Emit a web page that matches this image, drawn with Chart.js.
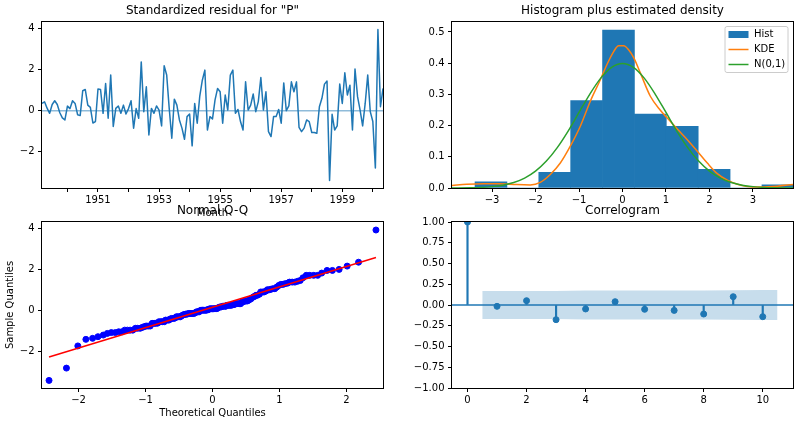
<!DOCTYPE html>
<html>
<head>
<meta charset="utf-8">
<title>Residual diagnostics</title>
<script src="https://cdn.jsdelivr.net/npm/chart.js@4.4.1/dist/chart.umd.min.js"></script>
<style>
  html, body { margin: 0; padding: 0; background: #fff; }
  #wrap { position: relative; width: 800px; height: 425px; overflow: hidden; }
  #wrap canvas { position: absolute; }
</style>
</head>
<body>
<div id="wrap">
  <canvas id="resid" width="400" height="225" style="left:0;top:0;width:400px;height:225px"></canvas>
  <canvas id="hist" width="400" height="210" style="left:400px;top:0;width:400px;height:210px"></canvas>
  <canvas id="qq" width="400" height="225" style="left:0;top:200px;width:400px;height:225px"></canvas>
  <canvas id="acf" width="400" height="225" style="left:400px;top:200px;width:400px;height:225px"></canvas>
</div>
<script>
// ---- data ----
const startYear = 1949, startMonth = 3;   // first residual (monthly)
const resid = [
  0.35, 0.43, 0.12, -0.13, 0.3, 0.48, 0.3, -0.1, -0.35, -0.45,
  0.22, 0.1, 0.48, 0.35, -0.2, -0.24, 0.97, 1.03, 0.27, 0.16,
  -0.6, -0.53, 1.05, 1.03, -0.13, 1.32, -0.37, 1.73, -0.77, 0.11,
  0.23, -0.13, 0.27, -0.16, 0.1, 0.48, -0.85, 0.1, -0.37, 2.37,
  -0.05, 1.16, -1.18, 0.11, -0.13, 0.23, 0.03, -0.74, 2.18, 1.73,
  0.1, -1.34, 0.56, 0.27, -0.45, -0.85, -1.39, -0.29, -0.16, -1.71,
  0.35, -0.61, 0.71, 1.48, 1.97, -0.94, -0.29, -0.4, 0.52, 1.08,
  0.92, -0.61, 0.76, 0.03, 1.73, 1.97, -0.13, 0.06, -0.53, -0.94,
  1.4, 0.03, 0.27, 0.81, -0.05, 0.44, 1.61, 0.03, 0.92, -1.02,
  -1.26, -0.29, -0.29, 0.06, -0.61, 1.35, 0.0, 0.23, 1.4, 0.92,
  1.4, -0.81, -1.02, -0.85, -0.45, -0.53, -1.06, -1.06, -1.1, 0.19,
  0.6, 1.29, 1.44, -3.39, -0.18, -0.94, -0.74, 1.29, 0.35, 1.84,
  0.76, 1.24, -0.94, 2.02, 0.68, 0.03, -0.74, 0.35, 1.73, -0.05,
  -0.53, -2.79, 3.94, 0.19, 1.08
];
const yearTicks = [1950, 1951, 1952, 1953, 1954, 1955, 1956, 1957, 1958, 1959, 1960];

const histCenters = [-3.024, -2.291, -1.558, -0.825, -0.092, 0.641, 1.374, 2.107, 2.840, 3.573];
const histDensity = [0.02, 0, 0.05, 0.28, 0.506, 0.237, 0.198, 0.06, 0, 0.01];
const kdeX = [-3.92, -3.58, -3.2, -2.82, -2.43, -2.12, -1.89, -1.66, -1.43, -1.2, -0.97, -0.74,
  -0.51, -0.36, -0.2, -0.09, 0.03, 0.14, 0.26, 0.41, 0.64, 0.87, 1.03, 1.26, 1.49, 1.72,
  1.95, 2.18, 2.41, 2.64, 2.87, 3.1, 3.33, 3.56, 3.92];
const kdeY = [0.008, 0.012, 0.014, 0.014, 0.011, 0.01, 0.018, 0.043, 0.08, 0.134, 0.198, 0.278,
  0.347, 0.395, 0.438, 0.456, 0.456, 0.443, 0.417, 0.369, 0.294, 0.249, 0.224, 0.189, 0.155, 0.118,
  0.08, 0.046, 0.025, 0.012, 0.005, 0.003, 0.004, 0.006, 0.011];
const normX = [-3.92, -3.5, -3.25, -3, -2.75, -2.5, -2.25, -2, -1.75, -1.5, -1.25, -1, -0.75, -0.5, -0.25, 0,
  0.25, 0.5, 0.75, 1, 1.25, 1.5, 1.75, 2, 2.25, 2.5, 2.75, 3, 3.25, 3.5, 3.92];
const normY = [0.0002, 0.0009, 0.002, 0.0044, 0.0091, 0.0175, 0.0317, 0.054, 0.0863, 0.1295, 0.1826, 0.242, 0.3011, 0.3521, 0.3867, 0.3989,
  0.3867, 0.3521, 0.3011, 0.242, 0.1826, 0.1295, 0.0863, 0.054, 0.0317, 0.0175, 0.0091, 0.0044, 0.002, 0.0009, 0.0002];

const qqTheo = [
  -2.44, -2.18, -2.01, -1.89, -1.79, -1.71, -1.63, -1.57, -1.51, -1.45,
  -1.40, -1.35, -1.31, -1.27, -1.23, -1.19, -1.15, -1.12, -1.08, -1.05,
  -1.02, -0.99, -0.96, -0.93, -0.90, -0.87, -0.85, -0.82, -0.80, -0.77,
  -0.75, -0.72, -0.70, -0.67, -0.65, -0.63, -0.61, -0.58, -0.56, -0.54,
  -0.52, -0.50, -0.48, -0.46, -0.44, -0.42, -0.40, -0.38, -0.36, -0.34,
  -0.32, -0.30, -0.28, -0.26, -0.24, -0.22, -0.20, -0.19, -0.17, -0.15,
  -0.13, -0.11, -0.09, -0.07, -0.06, -0.04, -0.02, 0,
  0.02, 0.04, 0.06, 0.07, 0.09, 0.11, 0.13,
  0.15, 0.17, 0.19, 0.20, 0.22, 0.24, 0.26, 0.28, 0.30, 0.32,
  0.34, 0.36, 0.38, 0.40, 0.42, 0.44, 0.46, 0.48, 0.50, 0.52,
  0.54, 0.56, 0.58, 0.61, 0.63, 0.65, 0.67, 0.70, 0.72, 0.75,
  0.77, 0.80, 0.82, 0.85, 0.87, 0.90, 0.93, 0.96, 0.99, 1.02,
  1.05, 1.08, 1.12, 1.15, 1.19, 1.23, 1.27, 1.31, 1.35, 1.40,
  1.45, 1.51, 1.57, 1.63, 1.71, 1.79, 1.89, 2.01, 2.18, 2.44
];
const qqLineX = [-2.44, 2.44];
const qqLineY = [-2.25, 2.6];

const lags = [0, 1, 2, 3, 4, 5, 6, 7, 8, 9, 10];
const acf = [1.0, -0.016, 0.052, -0.177, -0.048, 0.04, -0.052, -0.065, -0.109, 0.10, -0.141];
const bandX = [0.5, 1, 2, 3, 4, 5, 6, 7, 8, 9, 10, 10.5];
const bandHi = [0.169, 0.169, 0.169, 0.169, 0.174, 0.175, 0.175, 0.176, 0.176, 0.178, 0.18, 0.18];
const bandLo = [-0.169, -0.169, -0.169, -0.169, -0.174, -0.175, -0.175, -0.176, -0.176, -0.178, -0.18, -0.18];

// ---- styling helpers ----
const C0 = '#1f77b4';
Chart.defaults.font.family = "'DejaVu Sans', sans-serif";
Chart.defaults.font.size = 10;
Chart.defaults.color = '#000';

const num = d => v => (v < 0 ? '\u2212' : '') + Math.abs(v).toFixed(d);

function axis(min, max, ticks, fmt, fitKey, fitVal, pad) {
  return {
    type: 'linear', min, max, offset: false,
    afterBuildTicks: s => { s.ticks = ticks.map(v => ({ value: v })); },
    afterFit: s => { s[fitKey] = fitVal; },
    ticks: { autoSkip: false, maxRotation: 0, padding: pad, callback: fmt },
    grid: { drawOnChartArea: false, offset: false, color: '#000', tickLength: 4 },
    border: { display: false }
  };
}

function titleOpts(text) {
  return { display: true, text, fullSize: false, color: '#000',
           font: { size: 12, weight: 'normal' }, padding: { top: 4, bottom: 3.6 } };
}

function baseOptions(title, padding, scales) {
  return {
    responsive: false, animation: false, events: [],
    layout: { padding },
    plugins: { legend: { display: false }, tooltip: { enabled: false }, title: titleOpts(title) },
    scales
  };
}

// spines on all four sides, like matplotlib
const frame = {
  id: 'frame',
  afterDraw(chart) {
    const { ctx, chartArea: a } = chart;
    ctx.save();
    ctx.strokeStyle = '#000';
    ctx.lineWidth = 1;
    ctx.strokeRect(Math.round(a.left) - 0.5, Math.round(a.top) - 0.5,
                   Math.round(a.right - a.left) + 1, Math.round(a.bottom - a.top) + 1);
    ctx.restore();
  }
};

// legend box inside the histogram axes
const histLegend = {
  id: 'histLegend',
  afterDraw(chart) {
    const { ctx, chartArea: a } = chart;
    const w = 63, h = 46;
    const x = a.right - 5 - w, y = a.top + 4.5;
    ctx.save();
    ctx.fillStyle = 'rgba(255,255,255,0.8)';
    ctx.strokeStyle = '#cccccc';
    ctx.lineWidth = 1;
    ctx.beginPath();
    if (ctx.roundRect) ctx.roundRect(x, y, w, h, 2); else ctx.rect(x, y, w, h);
    ctx.fill();
    ctx.stroke();
    const items = [
      { label: 'Hist', color: C0, box: true },
      { label: 'KDE', color: '#ff7f0e' },
      { label: 'N(0,1)', color: '#2ca02c' }
    ];
    ctx.font = "10px 'DejaVu Sans', sans-serif";
    ctx.textBaseline = 'middle';
    items.forEach((it, k) => {
      const cy = y + 8 + k * 15;
      if (it.box) {
        ctx.fillStyle = it.color;
        ctx.fillRect(x + 3.5, cy - 3.5, 20, 7);
      } else {
        ctx.strokeStyle = it.color;
        ctx.lineWidth = 1.5;
        ctx.beginPath();
        ctx.moveTo(x + 3.5, cy);
        ctx.lineTo(x + 23.5, cy);
        ctx.stroke();
      }
      ctx.fillStyle = '#000';
      ctx.fillText(it.label, x + 29, cy);
    });
    ctx.restore();
  }
};

// ---- standardized residuals ----
const residPts = resid.map((v, i) => ({ x: startYear + (startMonth - 1 + i) / 12, y: v }));
const x0 = residPts[0].x, x1 = residPts[residPts.length - 1].x;
const xAxisResid = axis(x0, x1, yearTicks, v => (v % 2 === 1 ? String(v) : ''), 'height', 31, 2);
xAxisResid.title = { display: true, text: 'Month', padding: 0, font: { size: 10 } };

new Chart(document.getElementById('resid'), {
  type: 'line',
  data: { datasets: [
    { data: residPts, borderColor: C0, borderWidth: 1.5, pointRadius: 0, borderJoinStyle: 'round', order: 1 },
    { data: [{ x: x0, y: 0 }, { x: x1, y: 0 }], borderColor: 'rgba(31,119,180,0.5)', borderWidth: 1.5, pointRadius: 0, order: 0 }
  ]},
  options: baseOptions('Standardized residual for "P"', { left: 0, right: 17, top: 0, bottom: 6 }, {
    x: xAxisResid,
    y: axis(-3.76, 4.31, [-2, 0, 2, 4], num(0), 'width', 42, 3.5)
  }),
  plugins: [frame]
});

// ---- histogram + densities ----
new Chart(document.getElementById('hist'), {
  type: 'bar',
  data: { datasets: [
    { type: 'line', data: normX.map((x, i) => ({ x, y: normY[i] })), borderColor: '#2ca02c', borderWidth: 1.5,
      pointRadius: 0, cubicInterpolationMode: 'monotone', order: 1 },
    { type: 'line', data: kdeX.map((x, i) => ({ x, y: kdeY[i] })), borderColor: '#ff7f0e', borderWidth: 1.5,
      pointRadius: 0, cubicInterpolationMode: 'monotone', order: 2 },
    { type: 'bar', data: histCenters.map((x, i) => ({ x, y: histDensity[i] })), backgroundColor: C0,
      borderWidth: 0, barPercentage: 1, categoryPercentage: 1, order: 3 }
  ]},
  options: baseOptions('Histogram plus estimated density', { left: 0, right: 7, top: 0, bottom: 2 }, {
    x: axis(-3.92, 3.92, [-3, -2, -1, 0, 1, 2, 3], num(0), 'height', 20, 2),
    y: axis(0, 0.532, [0, 0.1, 0.2, 0.3, 0.4, 0.5], num(1), 'width', 52, 3.5)
  }),
  plugins: [frame, histLegend]
});

// ---- normal Q-Q ----
const sortedResid = resid.slice().sort((a, b) => a - b);
const xAxisQQ = axis(-2.545, 2.545, [-2, -1, 0, 1, 2], num(0), 'height', 31, 2);
xAxisQQ.title = { display: true, text: 'Theoretical Quantiles', padding: 0, font: { size: 10 } };
const yAxisQQ = axis(-3.76, 4.33, [-2, 0, 2, 4], num(0), 'width', 42, 3.5);
yAxisQQ.title = { display: true, text: 'Sample Quantiles', padding: { top: 4, bottom: 0 }, font: { size: 10 } };

new Chart(document.getElementById('qq'), {
  type: 'scatter',
  data: { datasets: [
    { type: 'line', data: qqLineX.map((x, i) => ({ x, y: qqLineY[i] })), borderColor: '#ff0000', borderWidth: 1.5,
      pointRadius: 0, order: 0 },
    { data: qqTheo.map((x, i) => ({ x, y: sortedResid[i] })), backgroundColor: '#0000ff', borderColor: '#0000ff',
      pointRadius: 3, pointBorderWidth: 1, order: 1 }
  ]},
  options: baseOptions('Normal Q-Q', { left: 0, right: 17, top: 0, bottom: 6 }, { x: xAxisQQ, y: yAxisQQ }),
  plugins: [frame]
});

// ---- correlogram ----
new Chart(document.getElementById('acf'), {
  type: 'bar',
  data: { datasets: [
    { type: 'scatter', data: lags.map((x, i) => ({ x, y: acf[i] })), backgroundColor: C0, borderColor: C0,
      pointRadius: 3, pointBorderWidth: 1, clip: 0, order: 0 },
    { type: 'line', data: [{ x: -0.525, y: 0 }, { x: 11.025, y: 0 }], borderColor: C0, borderWidth: 1.5,
      pointRadius: 0, order: 1 },
    { type: 'bar', data: lags.map((x, i) => ({ x, y: acf[i] })), backgroundColor: C0, borderWidth: 0,
      barThickness: 1.5, order: 2 },
    { type: 'line', data: bandX.map((x, i) => ({ x, y: bandHi[i] })), borderWidth: 0, pointRadius: 0,
      backgroundColor: 'rgba(31,119,180,0.25)', fill: '+1', order: 3 },
    { type: 'line', data: bandX.map((x, i) => ({ x, y: bandLo[i] })), borderWidth: 0, pointRadius: 0,
      fill: false, order: 4 }
  ]},
  options: baseOptions('Correlogram', { left: 0, right: 7, top: 0, bottom: 17 }, {
    x: axis(-0.525, 11.025, [0, 2, 4, 6, 8, 10], num(0), 'height', 20, 2),
    y: axis(-1, 1, [-1, -0.75, -0.5, -0.25, 0, 0.25, 0.5, 0.75, 1], num(2), 'width', 52, 3.5)
  }),
  plugins: [frame]
});
</script>
</body>
</html>
